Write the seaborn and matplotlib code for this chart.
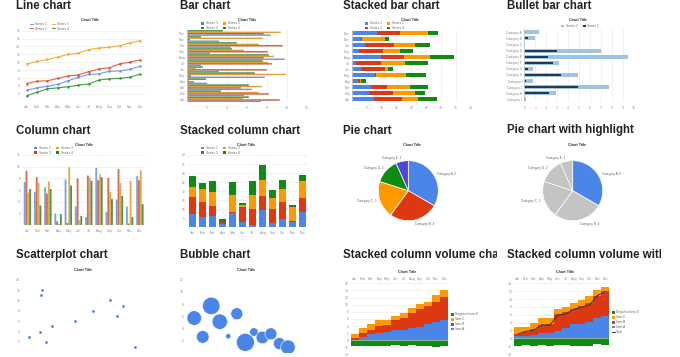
import numpy as np
import pandas as pd
import matplotlib
import matplotlib.pyplot as plt
from matplotlib.patches import Patch
from matplotlib.lines import Line2D
import seaborn as sns

matplotlib.use("Agg")

# Colors and style
c_blue = "#4a86e8"
c_red = "#dc3912"
c_orange = "#ff9900"
c_green = "#0f8a12"
c_gray = "#c4c4c4"
c_navy = "#1f3a55"
c_light = "#9fc3e4"
c_grid = "#ececec"
c_tick = "#8a8a8a"
fs_tick = 2.3
W, H = 680, 357

# ---- data ----
months = ["Jan", "Feb", "Mar", "Apr", "May", "Jun", "Jul", "Aug", "Sep", "Oct", "Nov", "Dec"]
series_names = ["Series 1", "Series 2", "Series 3", "Series 4"]

line_s1 = [2.9, 3.5, 3.9, 4.4, 5.3, 6.2, 6.9, 7.1, 7.7, 7.8, 8.2, 9.0]
line_s2 = [4.6, 5.2, 5.3, 5.9, 6.5, 6.8, 7.6, 8.3, 8.6, 9.6, 10.0, 10.6]
line_s3 = [9.6, 10.2, 10.7, 11.3, 12.0, 12.3, 13.2, 13.6, 13.8, 14.2, 14.9, 15.5]
line_s4 = [1.5, 2.4, 3.3, 3.5, 3.8, 4.2, 4.5, 5.5, 5.8, 5.9, 6.2, 7.0]

col_s1 = [7.4, 5.7, 6.5, 2.0, 7.8, 3.2, 1.4, 9.8, 2.3, 4.4, 3.2, 8.4]
col_s2 = [9.3, 8.2, 5.4, 0.7, 0.4, 8.0, 8.5, 7.7, 8.1, 9.6, 0.3, 7.7]
col_s3 = [5.6, 7.2, 7.5, 0.2, 9.9, 0.9, 8.1, 8.7, 5.7, 7.2, 7.6, 9.4]
col_s4 = [6.2, 3.4, 6.2, 1.9, 6.8, 1.6, 7.6, 8.2, 4.5, 5.0, 1.4, 3.6]

bullet_cats = ["Category A", "Category B", "Category C", "Category D", "Category E", "Category F",
               "Category G", "Category H", "Category I", "Category J", "Category K", "Category L"]
bullet_s2 = [1.3, 1.0, 0.1, 7.0, 9.5, 3.2, 0.8, 4.9, 0.8, 7.7, 2.9, 0.15]
bullet_s1 = [0.1, 0.35, 0.1, 3.0, 2.2, 2.6, 0.3, 3.4, 0.2, 4.9, 2.25, 0.1]

pie_cats = ["Category A", "Category B", "Category C", "Category D", "Category E"]
pie_vals = [5, 4, 3, 2, 1]

scatter_x = [1.0, 2.7, 2.8, 3.0, 3.5, 4.5, 7.9, 10.6, 13.0, 14.1, 15.0, 16.8]
scatter_y = [3, 4, 11, 12, 2, 5, 6, 8, 10, 7, 9, 1]

bubble_x = [0.5, 1.5, 1.0, 2.0, 3.0, 2.5, 3.5, 4.0, 4.5, 5.0, 5.5, 6.0]
bubble_y = [5.7, 7.7, 2.6, 5.1, 6.4, 2.7, 1.7, 3.4, 2.5, 3.1, 1.5, 0.9]
bubble_size = [53, 76, 40, 59, 36, 7, 81, 18, 40, 36, 36, 53]

vol_items = ["Negative Item D", "Item C", "Item B", "Item A"]
vol1_a = [0.0, 1.0, 1.7, 2.1, 2.2, 3.0, 3.0, 3.5, 3.8, 4.6, 5.1, 5.7]
vol1_b = [0.65, 0.9, 1.2, 2.0, 2.1, 2.6, 3.3, 4.1, 4.9, 5.0, 5.7, 6.5]
vol1_c = [1.2, 1.65, 1.7, 1.6, 1.3, 1.3, 1.45, 1.55, 1.4, 1.25, 1.8, 2.0]
vol1_d = [-1.7, -1.5, -1.5, -1.6, -1.5, -1.2, -1.6, -1.3, -1.5, -1.5, -1.8, -1.5]

vol2_a = [0.5, 0.6, 0.85, 1.3, 1.3, 2.0, 2.7, 3.6, 3.7, 4.2, 5.1, 5.6]
vol2_b = [0.6, 1.1, 1.45, 2.2, 2.4, 4.3, 4.0, 4.0, 4.6, 4.9, 5.8, 6.4]
vol2_c = [1.8, 1.2, 1.7, 1.6, 1.4, 1.2, 1.3, 1.5, 1.5, 1.6, 1.5, 1.0]
vol2_d = [-2.0, -1.7, -2.0, -1.7, -1.8, -1.7, -1.7, -1.8, -2.0, -2.0, -1.4, -1.6]
vol2_total = [1.1, 1.8, 2.1, 3.5, 3.3, 5.9, 6.2, 7.4, 7.9, 8.5, 10.9, 11.9]

series_colors = [c_blue, c_red, c_orange, c_green]
pal = dict(zip(series_names, series_colors))

df_line = pd.DataFrame({
    "idx": list(range(12)) * 4,
    "series": np.repeat(series_names, 12),
    "value": line_s1 + line_s2 + line_s3 + line_s4,
})
df_col = pd.DataFrame({
    "month": months * 4,
    "series": np.repeat(series_names, 12),
    "value": col_s1 + col_s2 + col_s3 + col_s4,
})

sns.set_theme(style="white")
plt.rcParams["font.family"] = ["Liberation Sans", "DejaVu Sans"]
plt.rcParams["patch.force_edgecolor"] = False

fig = plt.figure(figsize=(W / 100, H / 100), dpi=100)


def px_rect(x0, y0, x1, y1):
    return [x0 / W, 1 - y1 / H, (x1 - x0) / W, (y1 - y0) / H]


def fx(x):
    return x / W


def fy(y):
    return 1 - y / H


def tidy(ax, grid="y"):
    sns.despine(ax=ax, left=True, bottom=True)
    ax.tick_params(length=0, labelsize=fs_tick, labelcolor=c_tick, pad=1.5)
    if grid:
        ax.grid(axis=grid, color=c_grid, lw=0.5)
    ax.set_axisbelow(True)
    ax.set_xlabel("")
    ax.set_ylabel("")


def chart_title(x, y):
    fig.text(fx(x), fy(y), "Chart Title", fontsize=2.7, ha="center", va="center",
             color="#333333", fontweight="bold")


def legend(handles, labels, x, y, ncol=2):
    fig.legend(handles, labels, loc="upper left", bbox_to_anchor=(fx(x), fy(y)),
               ncol=ncol, fontsize=fs_tick, frameon=False, borderpad=0, borderaxespad=0,
               handlelength=1.0, handleheight=0.8, handletextpad=0.5, columnspacing=1.6,
               labelspacing=0.2, labelcolor="#666666")


def squares(colors):
    return [Patch(facecolor=c, edgecolor="none") for c in colors]


def panel_title(text, x, y_base, right):
    tax = fig.add_axes(px_rect(x - 3, y_base - 14, right, y_base + 5))
    tax.axis("off")
    tax.text(fx(x), fy(y_base), text, transform=fig.transFigure, fontsize=8.3,
             fontweight="bold", color="#222222", va="baseline", ha="left", clip_on=True)


# ---- panel titles ----
col_x = [16, 180, 343, 507]
row_y = [8.7, 133.5, 258]
titles = [["Line chart", "Bar chart", "Stacked bar chart", "Bullet bar chart"],
          ["Column chart", "Stacked column chart", "Pie chart", "Pie chart with highlight"],
          ["Scatterplot chart", "Bubble chart", "Stacked column volume chart",
           "Stacked column volume with total"]]
for r in range(3):
    for c in range(4):
        panel_title(titles[r][c], col_x[c], row_y[r], col_x[c] + 154)

# ---- Line chart ----
ax = fig.add_axes(px_rect(22, 30.7, 145, 101.7))
sns.lineplot(data=df_line, x="idx", y="value", hue="series", palette=pal, marker="o",
             markersize=1.8, markeredgewidth=0, linewidth=0.8, alpha=0.8, legend=False, ax=ax)
ax.set_xlim(-0.45, 11.45)
ax.set_ylim(0, 18)
ax.set_yticks(range(2, 19, 2))
ax.set_xticks(range(12), months)
tidy(ax)
ax.axhline(0, color="#c8c8c8", lw=0.6)
ax.tick_params(axis="x", pad=2.7)
chart_title(90, 20)
legend([Line2D([], [], color=c, lw=0.8, alpha=0.8) for c in series_colors], series_names, 30, 22)

# ---- Bar chart ----
ax = fig.add_axes(px_rect(187, 30, 306.7, 102.3))
sns.barplot(data=df_col, y="month", x="value", hue="series", order=months[::-1],
            hue_order=series_names[::-1], palette=pal, orient="h", width=0.94, gap=0,
            errorbar=None, legend=False, alpha=0.9, linewidth=0, snap=False, ax=ax)
ax.set_xlim(0, 12)
ax.set_xticks(range(0, 13, 2), [""] + [str(v) for v in range(2, 13, 2)])
tidy(ax, grid="x")
ax.axvline(0, color="#c8c8c8", lw=0.6)
ax.tick_params(axis="x", pad=2.7)
chart_title(246.7, 20.3)
legend(squares(series_colors), series_names, 201, 21.5)

# ---- Stacked bar chart ----
ax = fig.add_axes(px_rect(352, 30, 470.7, 102.3))
ypos = np.arange(12)
left = np.zeros(12)
for vals, col in zip([col_s1, col_s2, col_s3, col_s4], series_colors):
    ax.barh(ypos, vals, left=left, height=0.62, color=col, lw=0)
    left += np.array(vals)
ax.set_ylim(-0.5, 11.5)
ax.set_yticks(ypos, months)
ax.set_xlim(0, 40)
ax.set_xticks(range(0, 41, 5), [""] + [str(v) for v in range(5, 41, 5)])
tidy(ax, grid="x")
ax.axvline(0, color="#c8c8c8", lw=0.6)
ax.tick_params(axis="x", pad=2.7)
chart_title(410, 20)
legend(squares(series_colors), series_names, 365, 21.5)

# ---- Bullet bar chart ----
ax = fig.add_axes(px_rect(524.3, 29.3, 633.7, 102.3))
bpos = np.arange(12)
ax.barh(bpos, bullet_s2, height=0.68, color=c_light, lw=0)
ax.barh(bpos, bullet_s1, height=0.32, color=c_navy, lw=0)
ax.set_ylim(11.5, -0.5)
ax.set_yticks(bpos, bullet_cats)
ax.set_xlim(0, 10)
ax.set_xticks(range(0, 11))
tidy(ax, grid="x")
ax.axvline(0, color="#c8c8c8", lw=0.6)
ax.tick_params(axis="x", pad=2.7)
chart_title(578, 20)
legend(squares([c_light, c_navy]), ["Series 2", "Series 1"], 561, 24.2, ncol=2)

# ---- Column chart ----
ax = fig.add_axes(px_rect(22.3, 155, 145, 225.3))
sns.barplot(data=df_col, x="month", y="value", hue="series", order=months,
            hue_order=series_names, palette=pal, width=0.72, gap=0,
            errorbar=None, legend=False, alpha=0.8, linewidth=0, snap=False, ax=ax)
ax.set_ylim(0, 12)
ax.set_yticks(range(0, 13, 2), [""] + [str(v) for v in range(2, 13, 2)])
tidy(ax)
ax.axhline(0, color="#c8c8c8", lw=0.6)
ax.tick_params(axis="x", pad=2.7)
chart_title(84, 145)
legend(squares(series_colors), series_names, 34, 146)

# ---- Stacked column chart ----
ax = fig.add_axes(px_rect(187.3, 155, 307.7, 227.3))
xpos = np.arange(12)
bottom = np.zeros(12)
for vals, col in zip([col_s1, col_s2, col_s3, col_s4], series_colors):
    ax.bar(xpos, vals, bottom=bottom, width=0.64, color=col, lw=0)
    bottom += np.array(vals)
ax.set_xlim(-0.5, 11.5)
ax.set_xticks(xpos, months)
ax.set_ylim(0, 40)
ax.set_yticks(range(0, 41, 5), [""] + [str(v) for v in range(5, 41, 5)])
tidy(ax)
ax.axhline(0, color="#c8c8c8", lw=0.6)
ax.tick_params(axis="x", pad=2.7)
chart_title(246, 145.3)
legend(squares(series_colors), series_names, 201, 146)

# ---- Pie charts ----
pie_labels = [f"{c}, {v}" for c, v in zip(pie_cats, pie_vals)]
pie_colors = [c_blue, c_red, c_orange, c_green, "#5046d2"]
hl_colors = [c_blue] + [c_gray] * 4
for cx, cols, tx in [(408.3, pie_colors, 411.7), (572.7, hl_colors, 576.7)]:
    ax = fig.add_axes(px_rect(cx - 45, 190.7 - 45, cx + 45, 190.7 + 45))
    ax.pie(pie_vals, labels=pie_labels, colors=cols, startangle=90, counterclock=False,
           labeldistance=1.12, textprops={"fontsize": fs_tick, "color": "#666666"},
           wedgeprops={"edgecolor": "white", "linewidth": 0.5})
    ax.set_xlim(-1.5, 1.5)
    ax.set_ylim(-1.5, 1.5)
    chart_title(tx, 145.3)

# ---- Scatterplot ----
# x tick labels fall below the picture edge in the reference, so only tick marks are kept
ax = fig.add_axes(px_rect(22, 279.7, 143.3, 352.3))
sns.scatterplot(x=scatter_x, y=scatter_y, color=c_blue, s=4, linewidth=0, ax=ax)
ax.set_xlim(0, 18)
ax.set_ylim(0, 14)
ax.set_xticks(range(0, 19, 2), [""] * 10)
ax.set_yticks(range(0, 15, 2), [""] + [str(v) for v in range(2, 15, 2)])
tidy(ax, grid=None)
ax.tick_params(axis="x", length=1.2, width=0.4, color="#c8c8c8")
ax.axhline(0, color="#c8c8c8", lw=0.6)
chart_title(82.7, 270.3)

# ---- Bubble chart ----
ax = fig.add_axes(px_rect(185.7, 279.7, 305, 352.7))
k = 2.07
sns.scatterplot(x=bubble_x, y=bubble_y, size=bubble_size,
                sizes=(k * min(bubble_size), k * max(bubble_size)),
                color=c_blue, edgecolor="white", linewidth=0.4, alpha=1, legend=False, ax=ax)
ax.set_xlim(0, 7)
ax.set_ylim(0, 12)
ax.set_xticks(range(0, 8), [""] * 8)
ax.set_yticks(range(0, 13, 2), [""] + [str(v) for v in range(2, 13, 2)])
tidy(ax, grid=None)
ax.tick_params(axis="x", length=1.2, width=0.4, color="#c8c8c8")
ax.axhline(0, color="#c8c8c8", lw=0.6)
chart_title(246, 270.3)

# ---- Stacked column volume charts ----
vol_colors = [c_green, c_orange, c_red, c_blue]


def volume(rect, a, b, c, d, ylim, title_x, leg_x, leg_y, total=None):
    ax = fig.add_axes(px_rect(*rect))
    xp = np.arange(12)
    ax.bar(xp, d, width=1.0, color=c_green, lw=0)
    bot = np.zeros(12)
    for vals, col in zip([a, b, c], [c_blue, c_red, c_orange]):
        ax.bar(xp, vals, bottom=bot, width=1.0, color=col, lw=0)
        bot += np.array(vals)
    handles = squares(vol_colors)
    labels = list(vol_items)
    if total is not None:
        ax.plot(xp, total, color="#3a3a3a", lw=0.8)
        handles.append(Line2D([], [], color="#3a3a3a", lw=0.8))
        labels.append("Total")
    ax.set_xlim(-0.5, 11.5)
    ax.set_ylim(*ylim)
    ax.set_yticks(range(ylim[0], ylim[1] + 1, 2))
    ax.xaxis.tick_top()
    ax.set_xticks(xp, months)
    tidy(ax)
    ax.axhline(0, color="#c8c8c8", lw=0.5)
    chart_title(title_x, 271.7)
    fig.legend(handles, labels, loc="upper left", bbox_to_anchor=(fx(leg_x), fy(leg_y)),
               ncol=1, fontsize=fs_tick, frameon=False, borderpad=0, borderaxespad=0,
               handlelength=1.0, handleheight=0.8, handletextpad=0.5, labelspacing=0.3,
               labelcolor="#666666")


volume((350.7, 283.3, 448.3, 354.5), vol1_a, vol1_b, vol1_c, vol1_d, (-4, 16), 406.7, 450.5, 312.5)
volume((514, 283.3, 609.3, 354.2), vol2_a, vol2_b, vol2_c, vol2_d, (-4, 14), 565, 611.5, 310.5,
       total=vol2_total)

plt.savefig("out.png", dpi=100)
plt.close(fig)
